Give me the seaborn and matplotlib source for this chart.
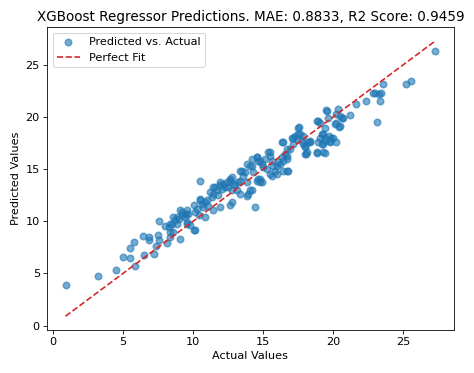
import numpy as np
import pandas as pd
import matplotlib
matplotlib.use("Agg")
import matplotlib.pyplot as plt
import seaborn as sns

# actual vs predicted values, grouped roughly by actual value range
actual = [
    0.89, 3.22, 4.52, 5.00, 5.47, 5.83, 5.52, 5.76, 6.42, 6.47, 6.82, 6.82, 7.18, 7.37, 7.47, 7.55, 7.56, 8.13, 8.00,
    8.25, 8.37, 8.49, 8.60, 8.73, 8.84, 8.96, 9.08, 9.20, 9.08, 9.51, 9.60, 8.60, 8.37, 8.37, 8.84, 9.56, 9.20, 9.44, 9.56, 9.67, 9.79, 10.03,
    10.15, 10.27, 10.39, 10.50, 10.63, 10.74, 10.86, 10.98, 11.10, 11.22, 11.34, 11.45, 11.57, 11.70, 11.81, 11.93, 10.46, 10.15, 10.86, 11.45, 11.93, 10.03, 10.50, 11.45, 11.93,
    12.05, 12.17, 12.29, 12.41, 12.52, 12.64, 12.76, 12.76, 12.88, 13.00, 13.12, 13.23, 13.35, 13.48, 13.59, 13.71, 13.83, 13.95, 12.64, 12.76, 13.35, 13.83, 12.64, 13.35, 13.83,
    14.07, 14.19, 14.30, 14.42, 14.54, 14.66, 14.78, 14.19, 14.54, 14.78, 14.90, 15.01, 15.14, 15.26, 15.37, 15.49, 15.61, 15.73, 15.85, 15.97, 14.66, 14.78, 14.19, 15.61, 14.90, 15.49, 15.97, 14.07, 14.54, 15.49,
    16.08, 16.20, 16.32, 16.56, 16.68, 16.80, 16.92, 17.15, 16.44, 16.44, 17.04, 17.27, 17.39, 17.51, 17.75, 17.86, 17.98, 18.10, 17.58, 16.68, 16.44, 16.68, 17.98, 16.32, 17.15, 17.51, 17.63, 17.98, 16.68,
    18.34, 18.82, 18.93, 19.05, 19.17, 19.29, 19.41, 19.29, 19.64, 19.76, 18.82, 18.34, 18.06, 18.86, 19.41, 17.86, 18.93, 19.17, 19.41, 19.72, 19.76, 20.00, 19.29, 19.41, 19.05, 19.48, 19.53, 19.88, 18.22,
    20.19, 20.36, 20.19, 20.48, 20.67, 20.24, 20.12, 20.48, 20.43, 20.60, 21.19, 21.62, 22.33, 22.85, 22.97, 23.28, 23.45, 23.33, 23.56, 23.13, 25.22, 25.58, 27.31,
]
predicted = [
    3.85, 4.77, 5.35, 6.55, 6.49, 5.70, 7.45, 8.00, 8.60, 6.75, 8.50, 8.18, 6.90, 7.60, 8.65, 8.20, 10.00, 7.90, 9.55,
    9.45, 8.97, 9.77, 10.40, 10.09, 9.77, 10.25, 11.04, 10.56, 8.30, 10.72, 9.77, 8.97, 8.50, 9.77, 10.40, 11.04, 10.88, 10.40, 9.92, 10.72, 9.61, 9.13,
    10.88, 11.20, 10.56, 12.00, 11.68, 11.36, 11.83, 12.00, 11.50, 12.79, 12.31, 12.63, 13.26, 12.95, 12.47, 13.43, 13.90, 9.13, 10.40, 11.04, 11.36, 11.52, 12.16, 13.26, 13.74,
    13.11, 13.59, 13.26, 13.74, 13.26, 13.90, 12.95, 14.22, 13.59, 13.43, 12.95, 13.74, 13.90, 14.86, 14.38, 14.70, 13.74, 12.63, 11.52, 11.83, 12.63, 12.38, 14.06, 14.86, 15.50,
    12.95, 15.33, 14.70, 11.36, 13.90, 15.81, 14.06, 15.97, 16.13, 15.81, 15.50, 15.17, 15.97, 15.02, 16.60, 16.29, 15.81, 15.33, 14.86, 14.54, 14.06, 13.74, 12.95, 14.38, 13.74, 14.54, 15.33, 15.33, 16.13, 16.60,
    15.65, 15.50, 16.13, 16.45, 15.97, 14.86, 16.93, 17.40, 17.56, 14.86, 18.03, 18.20, 17.88, 18.36, 17.72, 17.40, 17.08, 16.60, 19.06, 14.86, 15.81, 16.29, 16.45, 17.56, 18.03, 18.99, 18.36, 17.24, 16.93,
    17.56, 16.60, 17.56, 18.03, 17.40, 18.36, 17.72, 16.60, 19.94, 17.56, 19.63, 17.72, 16.45, 16.50, 16.54, 18.20, 19.63, 18.36, 18.03, 18.20, 17.72, 18.03, 17.40, 18.99, 19.47, 20.65, 20.58, 18.03, 17.56,
    17.56, 20.74, 20.33, 20.10, 19.88, 19.47, 19.31, 19.15, 19.06, 19.94, 20.17, 21.28, 21.54, 22.33, 22.33, 22.18, 22.27, 21.54, 23.13, 19.56, 23.19, 23.44, 26.37,
]

mae = 0.8833
r2 = 0.9459

df = pd.DataFrame({"Actual": actual, "Predicted": predicted})

plt.rcParams["font.size"] = 11

fig = plt.figure(figsize=(474 / 74, 373 / 74), dpi=74)
ax = fig.add_axes([47 / 474, 43 / 373, 407 / 474, 303 / 373])

sns.scatterplot(data=df, x="Actual", y="Predicted", ax=ax, alpha=0.6,
                color="#1f77b4", edgecolor="face", linewidth=1.5, s=40,
                label="Predicted vs. Actual")
lo, hi = df["Actual"].min(), df["Actual"].max()
ax.plot([lo, hi], [lo, hi], "--", color="#d62728", linewidth=1.6, label="Perfect Fit")

ax.set_xlabel("Actual Values")
ax.set_ylabel("Predicted Values")
ax.set_title(f"XGBoost Regressor Predictions. MAE: {mae:.4f}, R2 Score: {r2:.4f}")
ax.legend(loc="upper left")

fig.savefig("out.png", dpi=74)
